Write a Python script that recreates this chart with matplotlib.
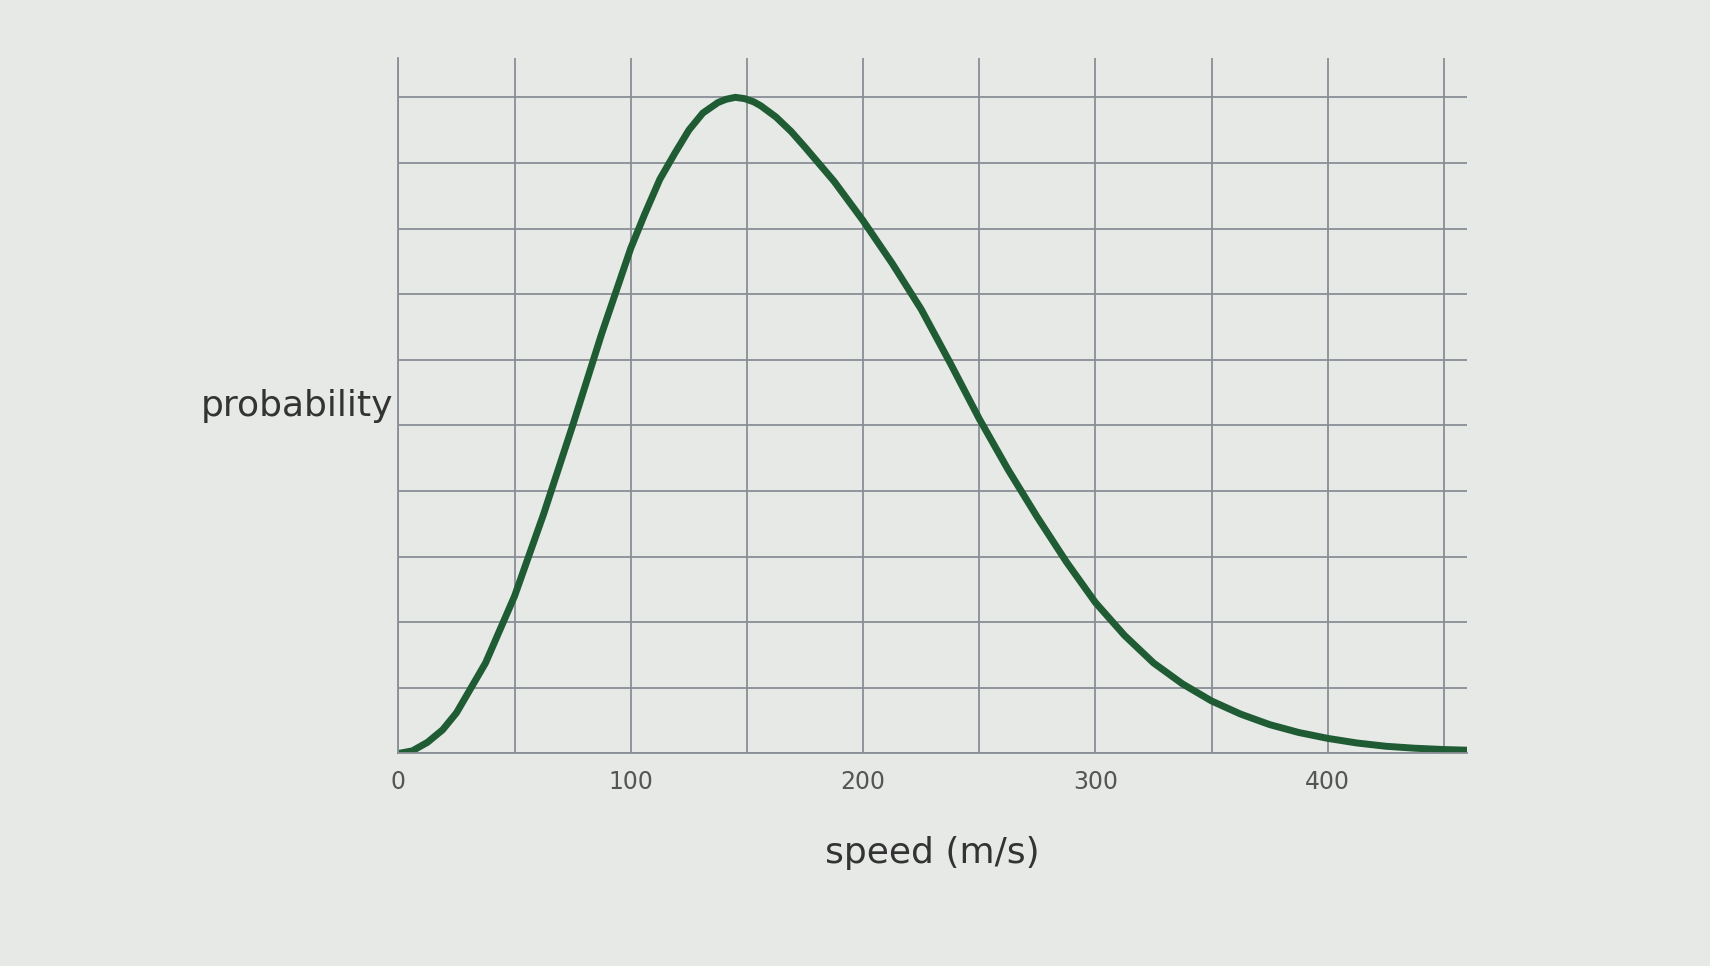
import matplotlib.pyplot as plt
import numpy as np

# speed (m/s) and relative probability (grid units)
speed = [0, 6, 12.5, 19, 25, 37.5, 50, 62.5, 75, 87.5, 100, 106, 112.5, 119,
         125, 131, 137.5, 141, 145, 149, 153, 156, 162.5, 169, 175, 187.5,
         200, 212.5, 225, 237.5, 250, 262.5, 275, 287.5, 300, 312.5, 325,
         337.5, 350, 362.5, 375, 387.5, 400, 412.5, 425, 437.5, 450, 460]
prob = [0, 0.04, 0.17, 0.36, 0.62, 1.38, 2.4, 3.65, 5.0, 6.4, 7.7, 8.22,
        8.75, 9.15, 9.5, 9.76, 9.92, 9.97, 10.0, 9.98, 9.93, 9.87, 9.7,
        9.48, 9.24, 8.72, 8.12, 7.47, 6.77, 5.95, 5.1, 4.32, 3.6, 2.92, 2.3,
        1.8, 1.38, 1.06, 0.8, 0.6, 0.44, 0.32, 0.23, 0.16, 0.11, 0.08,
        0.06, 0.05]
xticks = [0, 100, 200, 300, 400]

bg = '#e6e9e6'
fig = plt.figure(figsize=(17.1, 9.66), dpi=100, facecolor=bg)
ax = fig.add_axes([0.233, 0.22, 0.625, 0.72])
ax.set_facecolor(bg)

ax.plot(speed, prob, color='#1f5c34', lw=5, solid_capstyle='round',
        solid_joinstyle='round')

ax.set_xlim(0, 460)
ax.set_ylim(0, 10.6)
grid_x = np.arange(0, 451, 50)
ax.set_xticks(grid_x)
ax.set_xticklabels([str(t) if t in xticks else '' for t in grid_x],
                   fontsize=17, color='#555555')
ax.set_yticks(np.arange(0, 11, 1))
ax.set_yticklabels([])
ax.tick_params(length=0, pad=12)
ax.grid(True, color='#8a8f96', lw=1.3)
for s in ax.spines.values():
    s.set_color('#8a8f96')
    s.set_linewidth(1.3)
ax.spines['top'].set_visible(False)
ax.spines['right'].set_visible(False)

ax.set_xlabel('speed (m/s)', fontsize=26, color='#333333', labelpad=30)
ax.set_ylabel('probability', fontsize=26, color='#333333', rotation=0,
              ha='right', va='center', labelpad=10)
ax.yaxis.set_label_coords(-0.005, 0.5)

fig.savefig('out.png', dpi=100, facecolor=bg)
